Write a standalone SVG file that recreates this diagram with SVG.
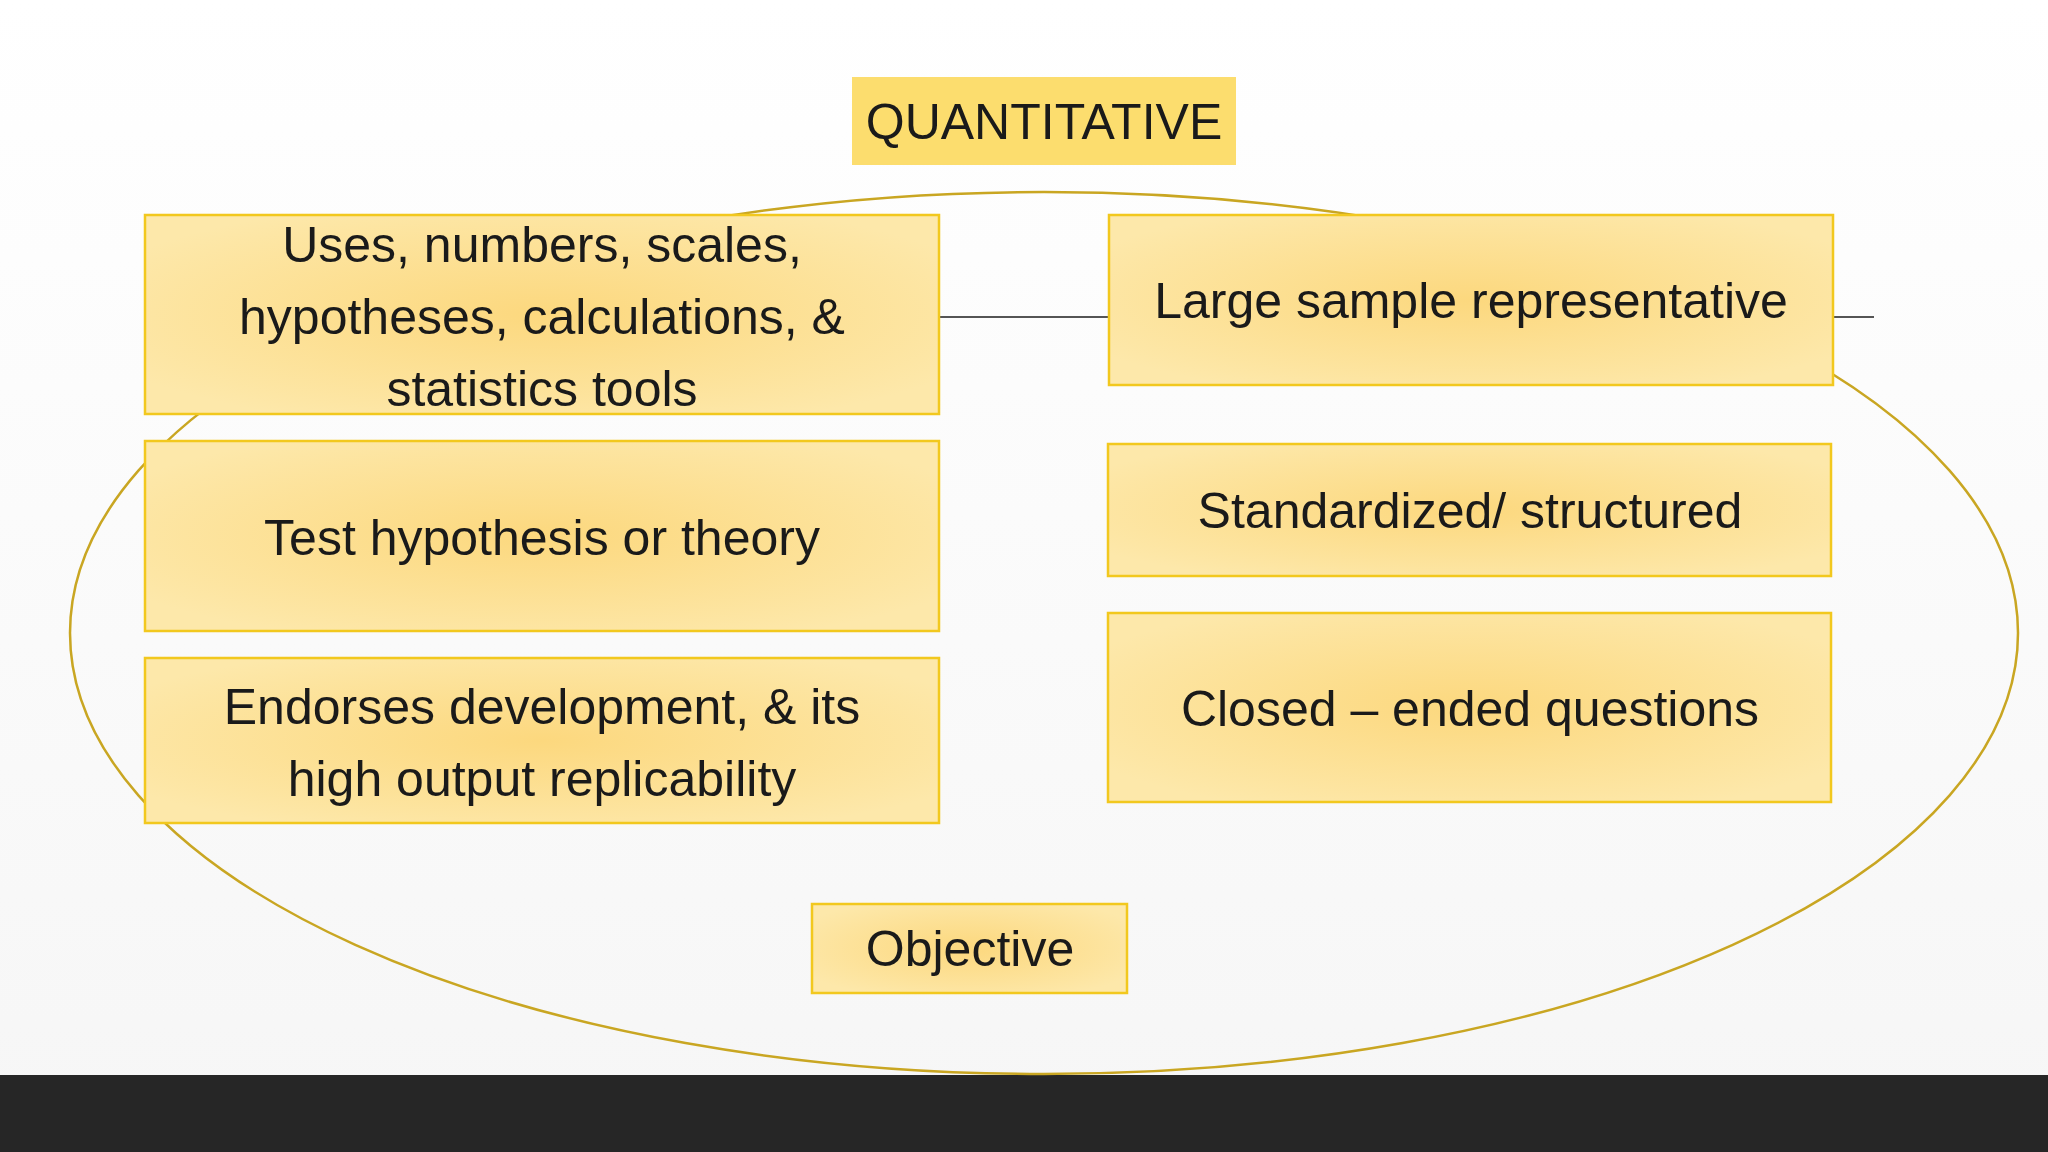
<svg xmlns="http://www.w3.org/2000/svg" width="2048" height="1152" viewBox="0 0 2048 1152">
<defs>
<radialGradient id="g" cx="0.5" cy="0.5" r="0.6"><stop offset="0" stop-color="#fcd87e"/><stop offset="1" stop-color="#fde8aa"/></radialGradient>
<linearGradient id="bg" x1="0" y1="0" x2="0" y2="1"><stop offset="0" stop-color="#ffffff"/><stop offset="1" stop-color="#f6f6f6"/></linearGradient>
<style>
.b{fill:url(#g);stroke:#f2c81e;stroke-width:2.5}
.t{font-family:"Liberation Sans",Arial,sans-serif;font-size:50px;fill:#1a1a1a;text-anchor:middle}
</style>
</defs>
<rect width="2048" height="1152" fill="url(#bg)"/>
<rect y="1075" width="2048" height="77" fill="#262626"/>
<ellipse cx="1044" cy="633" rx="974" ry="441" fill="none" stroke="#c9a622" stroke-width="2.5"/>
<g id="connectors" stroke="#555" stroke-width="2">
<line x1="939" y1="317" x2="1109" y2="317"/>
<line x1="1833" y1="317" x2="1874" y2="317"/>
</g>
<g id="title"><rect x="852" y="77" width="384" height="88" fill="#fcdd6e"/><text class="t" x="1044" y="139">QUANTITATIVE</text></g>
<g id="n1"><rect class="b" x="145" y="215" width="794" height="199"/>
<text class="t" x="542" y="262">Uses, numbers, scales,</text>
<text class="t" x="542" y="334">hypotheses, calculations, &amp;</text>
<text class="t" x="542" y="406">statistics tools</text></g>
<g id="n2"><rect class="b" x="145" y="441" width="794" height="190"/><text class="t" x="542" y="555">Test hypothesis or theory</text></g>
<g id="n3"><rect class="b" x="145" y="658" width="794" height="165"/>
<text class="t" x="542" y="724">Endorses development, &amp; its</text>
<text class="t" x="542" y="796">high output replicability</text></g>
<g id="n4"><rect class="b" x="1109" y="215" width="724" height="170"/><text class="t" x="1471" y="318">Large sample representative</text></g>
<g id="n5"><rect class="b" x="1108" y="444" width="723" height="132"/><text class="t" x="1470" y="528">Standardized/ structured</text></g>
<g id="n6"><rect class="b" x="1108" y="613" width="723" height="189"/><text class="t" x="1470" y="726">Closed – ended questions</text></g>
<g id="n7"><rect class="b" x="812" y="904" width="315" height="89"/><text class="t" x="970" y="966">Objective</text></g>
</svg>
